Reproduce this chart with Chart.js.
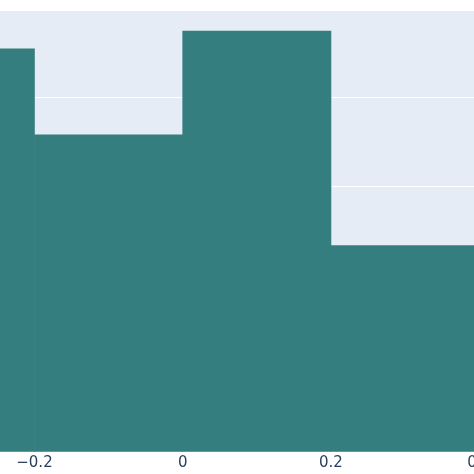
<!DOCTYPE html>
<html>
<head>
<meta charset="utf-8">
<script src="https://cdn.jsdelivr.net/npm/chart.js@4/dist/chart.umd.min.js"></script>
<style>
  html, body { margin: 0; padding: 0; background: #fff; }
  #wrap { width: 474px; height: 474px; }
</style>
</head>
<body>
<div id="wrap"><canvas id="myChart"></canvas></div>
<script>
// bin centres and heights
const binCenters = [-0.3, -0.1, 0.1, 0.3];
const binHeights = [4.55, 3.58, 4.75, 2.33];
const xTicks = [-0.2, 0, 0.2, 0.4];

const barColor = 'rgb(53, 126, 127)';

function fmt(v) {
    const s = (Math.round(v * 10) / 10).toString();
    return s.replace('-', '\u2212');
}

// plot background
const bgPlugin = {
    id: 'bg',
    beforeDraw(chart) {
        const a = chart.chartArea;
        const ctx = chart.ctx;
        ctx.save();
        ctx.fillStyle = '#E5ECF6';
        ctx.fillRect(a.left, a.top, a.right - a.left, a.bottom - a.top);
        ctx.restore();
    }
};

// tick labels drawn at the scale's positions (last one falls off the edge)
const tickPlugin = {
    id: 'tickLabels',
    afterDraw(chart) {
        const x = chart.scales.x;
        const ctx = chart.ctx;
        ctx.save();
        ctx.font = '15px "DejaVu Sans"';
        ctx.fillStyle = '#2a3f5f';
        ctx.textAlign = 'center';
        ctx.textBaseline = 'middle';
        xTicks.forEach(function (t) {
            ctx.fillText(fmt(t), x.getPixelForValue(t), chart.chartArea.bottom + 11.5);
        });
        ctx.restore();
    }
};

const chartdata = {
    datasets: [{
        data: binCenters.map(function (c, i) { return { x: c, y: binHeights[i] }; }),
        backgroundColor: barColor,
        borderWidth: 0,
        barPercentage: 1,
        categoryPercentage: 1
    }]
};

const config = {
    type: 'bar',
    data: chartdata,
    plugins: [bgPlugin, tickPlugin],
    options: {
        animation: false,
        responsive: true,
        maintainAspectRatio: false,
        layout: { padding: { top: 10, left: 0, right: 0, bottom: 0 } },
        plugins: { legend: { display: false }, tooltip: { enabled: false } },
        scales: {
            x: {
                type: 'linear',
                offset: false,
                min: -0.2465,
                max: 0.393,
                grid: { display: false },
                border: { display: false },
                ticks: { display: false, stepSize: 0.2, includeBounds: false },
                afterFit(scale) { scale.height = 22; }
            },
            y: {
                min: 0,
                max: 4.75 * 1.05,
                grid: { color: '#ffffff', lineWidth: 1, drawTicks: false },
                border: { display: false },
                ticks: { display: false, stepSize: 1 },
                afterFit(scale) { scale.width = 0; }
            }
        }
    }
};

var myChart = new Chart(document.getElementById('myChart'), config);
</script>
</body>
</html>
